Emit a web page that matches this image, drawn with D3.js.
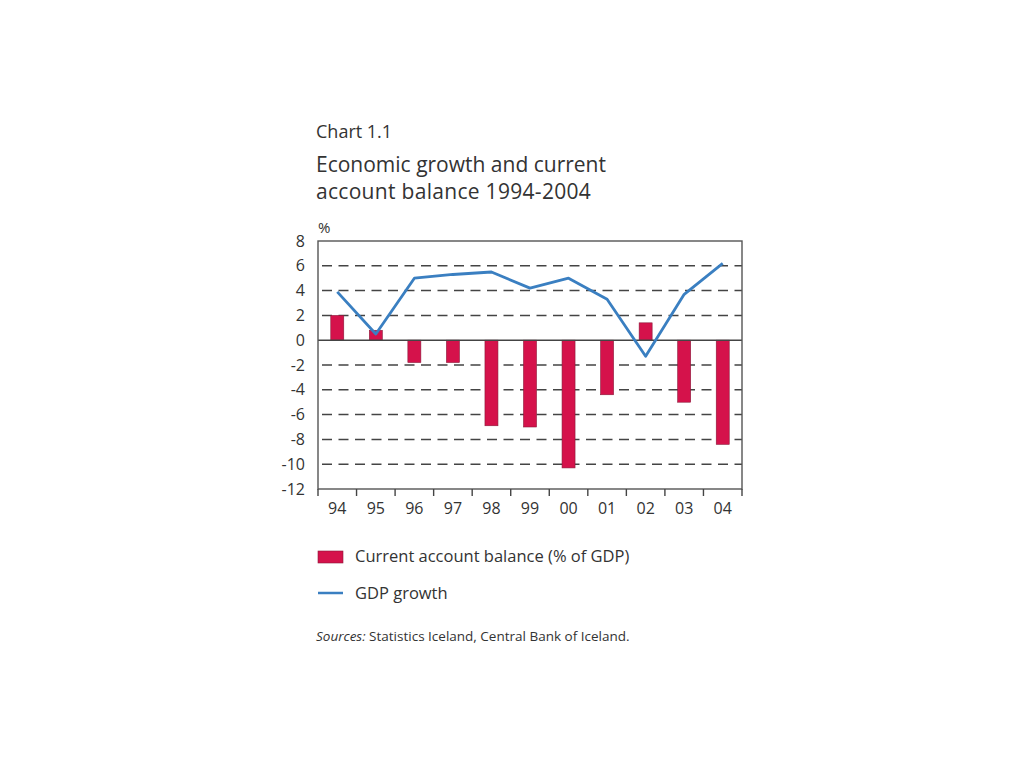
<!DOCTYPE html>
<html>
<head>
<meta charset="utf-8">
<script src="https://cdn.jsdelivr.net/npm/d3@7"></script>
<style>
  body { margin: 0; background: #fff; }
  text { font-family: 'Open Sans', sans-serif; fill: #333; }
</style>
</head>
<body>
<div id="chart"></div>
<script>
const years = ['94', '95', '96', '97', '98', '99', '00', '01', '02', '03', '04'];
const currentAccount = [2.0, 0.8, -1.8, -1.8, -6.9, -7.0, -10.3, -4.4, 1.4, -5.0, -8.4];
const gdpGrowth = [3.9, 0.5, 5.0, 5.3, 5.5, 4.2, 5.0, 3.3, -1.3, 3.7, 6.2];
const yTicks = [8, 6, 4, 2, 0, -2, -4, -6, -8, -10, -12];

const width = 1024;
const height = 768;
const plot = { left: 318, right: 742, top: 241, bottom: 489 };

const svg = d3.select('#chart').append('svg')
  .attr('width', width)
  .attr('height', height);

const xScale = d3.scaleBand()
  .domain(years)
  .range([plot.left, plot.right]);

const yScale = d3.scaleLinear()
  .domain([-12, 8])
  .range([plot.bottom, plot.top]);

// titles
svg.append('text')
  .attr('x', 316).attr('y', 138)
  .style('font-size', '18px')
  .text('Chart 1.1');

svg.append('text')
  .attr('x', 316).attr('y', 172)
  .style('font-size', '21px')
  .text('Economic growth and current');

svg.append('text')
  .attr('x', 316).attr('y', 199)
  .style('font-size', '21px')
  .style('letter-spacing', '0.3px')
  .text('account balance 1994-2004');

svg.append('text')
  .attr('x', 318).attr('y', 233)
  .style('font-size', '15px')
  .text('%');

// dashed gridlines
svg.selectAll('.grid')
  .data(yTicks.filter(d => d !== 0 && d !== 8 && d !== -12))
  .enter()
  .append('line')
  .attr('class', 'grid')
  .attr('x1', plot.left + 4)
  .attr('x2', plot.right)
  .attr('y1', d => yScale(d))
  .attr('y2', d => yScale(d))
  .attr('stroke', '#444')
  .attr('stroke-width', 1.5)
  .style('stroke-dasharray', '10, 6.5');

// bars
svg.selectAll('.bar')
  .data(currentAccount)
  .enter()
  .append('rect')
  .attr('class', 'bar')
  .attr('x', (d, i) => xScale(years[i]) + xScale.bandwidth() / 2 - 6.5)
  .attr('width', 13)
  .attr('y', d => yScale(Math.max(0, d)))
  .attr('height', d => Math.abs(yScale(d) - yScale(0)))
  .attr('fill', '#d5124b')
  .attr('stroke', '#8a1a3a')
  .attr('stroke-width', 0.6);

// zero line
svg.append('line')
  .attr('x1', plot.left).attr('x2', plot.right)
  .attr('y1', yScale(0)).attr('y2', yScale(0))
  .attr('stroke', '#444')
  .attr('stroke-width', 1.4);

// frame
svg.append('rect')
  .attr('x', plot.left).attr('y', plot.top)
  .attr('width', plot.right - plot.left)
  .attr('height', plot.bottom - plot.top)
  .attr('fill', 'none')
  .attr('stroke', '#555')
  .attr('stroke-width', 1.4);

// gdp line
const line = d3.line()
  .x((d, i) => xScale(years[i]) + xScale.bandwidth() / 2)
  .y(d => yScale(d));

svg.append('path')
  .datum(gdpGrowth)
  .attr('d', line)
  .attr('fill', 'none')
  .attr('stroke', '#3a7fc1')
  .attr('stroke-width', 2.8)
  .attr('stroke-linejoin', 'round');

// y axis labels
svg.selectAll('.ylabel')
  .data(yTicks)
  .enter()
  .append('text')
  .attr('class', 'ylabel')
  .attr('x', 305)
  .attr('y', d => yScale(d) + 5.5)
  .attr('text-anchor', 'end')
  .style('font-size', '16px')
  .text(d => d);

// x axis ticks
const xTickPos = years.map(y => xScale(y)).concat([plot.right]);
svg.selectAll('.xtick')
  .data(xTickPos)
  .enter()
  .append('line')
  .attr('class', 'xtick')
  .attr('x1', d => d).attr('x2', d => d)
  .attr('y1', plot.bottom).attr('y2', plot.bottom + 7)
  .attr('stroke', '#444')
  .attr('stroke-width', 1.4);

svg.selectAll('.xlabel')
  .data(years)
  .enter()
  .append('text')
  .attr('class', 'xlabel')
  .attr('x', d => xScale(d) + xScale.bandwidth() / 2)
  .attr('y', plot.bottom + 25)
  .attr('text-anchor', 'middle')
  .style('font-size', '16px')
  .text(d => d);

// legend
svg.append('rect')
  .attr('x', 318).attr('y', 551)
  .attr('width', 25).attr('height', 12)
  .attr('fill', '#d5124b')
  .attr('stroke', '#8a1a3a')
  .attr('stroke-width', 0.6);

svg.append('text')
  .attr('x', 355).attr('y', 562)
  .style('font-size', '16.5px')
  .text('Current account balance (% of GDP)');

svg.append('line')
  .attr('x1', 318).attr('x2', 343)
  .attr('y1', 593).attr('y2', 593)
  .attr('stroke', '#3a7fc1')
  .attr('stroke-width', 2.5);

svg.append('text')
  .attr('x', 355).attr('y', 599)
  .style('font-size', '16.5px')
  .text('GDP growth');

const src = svg.append('text')
  .attr('x', 316).attr('y', 641)
  .style('font-size', '13.5px');
src.append('tspan').style('font-style', 'italic').text('Sources:');
src.append('tspan').text(' Statistics Iceland, Central Bank of Iceland.');
</script>
</body>
</html>
